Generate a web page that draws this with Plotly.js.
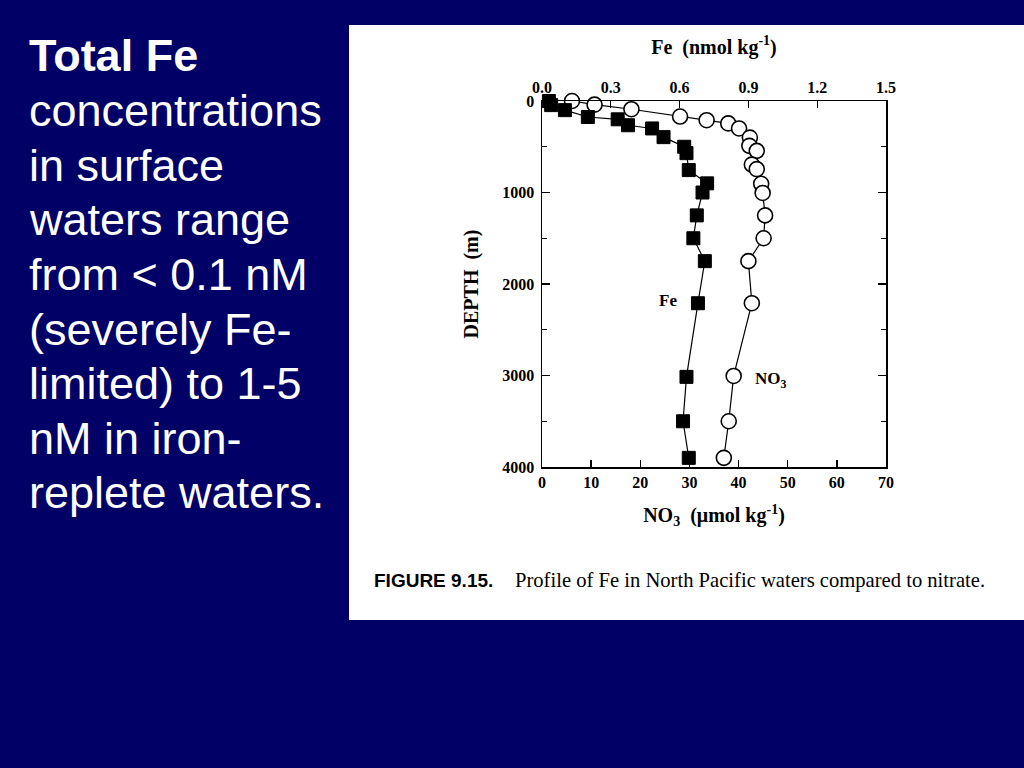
<!DOCTYPE html>
<html>
<head>
<meta charset="utf-8">
<script src="https://cdn.plot.ly/plotly-3.0.1.min.js"></script>
<style>
html,body{margin:0;padding:0;background:#000066;}
#chart{width:1024px;height:768px;}
</style>
</head>
<body>
<div id="chart"></div>
<script>
// ---- data ----
const feDepth = [0, 45, 100, 175, 200, 265, 300, 395, 500, 570, 755, 900, 1000, 1250, 1500, 1750, 2210, 3015, 3500, 3900];
const feValues = [0.03, 0.04, 0.10, 0.20, 0.33, 0.375, 0.48, 0.53, 0.62, 0.63, 0.64, 0.72, 0.70, 0.675, 0.66, 0.71, 0.68, 0.63, 0.615, 0.64];

const no3Depth = [0, 40, 90, 170, 210, 245, 300, 400, 490, 545, 695, 745, 905, 1005, 1250, 1500, 1750, 2210, 3005, 3500, 3900];
const no3Values = [6.1, 10.7, 18.2, 28.1, 33.5, 37.9, 40.1, 42.3, 42.2, 43.7, 42.7, 43.7, 44.6, 44.9, 45.4, 45.1, 42.0, 42.7, 39.0, 38.0, 37.0];

const no3Ticks = [0, 10, 20, 30, 40, 50, 60, 70];
const feTicks = [0.0, 0.3, 0.6, 0.9, 1.2, 1.5];
const depthTicks = [0, 1000, 2000, 3000, 4000];

const slideLines = [
  "<b>Total Fe</b>",
  "concentrations",
  "in surface",
  "waters range",
  "from &lt; 0.1 nM",
  "(severely Fe-",
  "limited) to 1-5",
  "nM in iron-",
  "replete waters."
];
const captionLead = "FIGURE 9.15.";
const captionText = "Profile of Fe in North Pacific waters compared to nitrate.";

// ---- layout geometry (pixels) ----
const PL = 542, PR = 886, PT = 101, PB = 467;
const px = x => (x - PL) / (PR - PL);
const py = y => (PB - y) / (PB - PT);

const serif = "Liberation Serif, Times New Roman, serif";
const sans = "Liberation Sans, Arial, Helvetica, sans-serif";

const traces = [
  {
    x: no3Values, y: no3Depth, xaxis: 'x', yaxis: 'y',
    type: 'scatter', mode: 'lines+markers', name: 'NO3',
    cliponaxis: false,
    line: {color: '#000', width: 1.2},
    marker: {symbol: 'circle', size: 15, color: '#fff', line: {color: '#000', width: 1.6}}
  },
  {
    x: feValues, y: feDepth, xaxis: 'x2', yaxis: 'y',
    type: 'scatter', mode: 'lines+markers', name: 'Fe',
    cliponaxis: false,
    line: {color: '#000', width: 1.2},
    marker: {symbol: 'square', size: 13, color: '#000', line: {color: '#000', width: 1}}
  }
];

const annotations = [];
slideLines.forEach((t, i) => {
  annotations.push({
    xref: 'paper', yref: 'paper', x: px(27), y: py(56 + i * 54.6),
    xanchor: 'left', yanchor: 'middle', showarrow: false,
    text: t, font: {family: sans, size: 45, color: '#ffffff'}
  });
});
annotations.push({
  xref: 'paper', yref: 'paper', x: px(372), y: py(580),
  xanchor: 'left', yanchor: 'middle', showarrow: false,
  text: '<b>' + captionLead + '</b>',
  font: {family: "Liberation Sans Narrow, Arial Narrow, " + sans, size: 19, color: '#000'}
});
annotations.push({
  xref: 'paper', yref: 'paper', x: px(513), y: py(580),
  xanchor: 'left', yanchor: 'middle', showarrow: false,
  text: captionText,
  font: {family: serif, size: 20.6, color: '#000'}
});
annotations.push({
  xref: 'x', yref: 'y', x: 25.7, y: 2175,
  showarrow: false, text: '<b>Fe</b>',
  font: {family: serif, size: 17, color: '#000'}
});
annotations.push({
  xref: 'x', yref: 'y', x: 46.5, y: 3050,
  showarrow: false, text: '<b>NO<sub>3</sub></b>',
  font: {family: serif, size: 17, color: '#000'}
});

const tickFont = {family: serif, size: 16, color: '#000', weight: 'bold'};
const titleFont = {family: serif, size: 20, color: '#000', weight: 'bold'};

const layout = {
  width: 1024, height: 768,
  margin: {l: PL, r: 1024 - PR, t: PT, b: 768 - PB, pad: 0},
  paper_bgcolor: '#000066',
  plot_bgcolor: '#ffffff',
  showlegend: false,
  xaxis: {
    range: [0, 70], tickvals: no3Ticks, ticktext: no3Ticks.map(String),
    ticks: 'inside', ticklen: 7, tickwidth: 1.3, tickcolor: '#000',
    showline: true, linecolor: '#000', linewidth: 1.5,
    showgrid: false, zeroline: false, mirror: false,
    tickfont: tickFont,
    title: {text: '<b>NO<sub>3</sub>  (μmol kg<sup>-1</sup>)</b>', font: titleFont, standoff: 18}
  },
  xaxis2: {
    range: [0, 1.5], overlaying: 'x', side: 'top', anchor: 'y',
    tickvals: feTicks, ticktext: feTicks.map(v => v.toFixed(1)),
    ticks: 'inside', ticklen: 7, tickwidth: 1.3, tickcolor: '#000',
    showline: true, linecolor: '#000', linewidth: 1.5,
    showgrid: false, zeroline: false,
    tickfont: tickFont,
    title: {text: '<b>Fe  (nmol kg<sup>-1</sup>)</b>', font: titleFont, standoff: 19}
  },
  yaxis: {
    range: [4000, 0], tickvals: depthTicks, ticktext: depthTicks.map(String),
    ticks: 'inside', ticklen: 8, tickwidth: 1.3, tickcolor: '#000',
    ticklabelstandoff: 3,
    minor: {dtick: 500, ticks: 'inside', ticklen: 5, tickwidth: 1.2, tickcolor: '#000', showgrid: false},
    showline: true, linecolor: '#000', linewidth: 1.5, mirror: 'ticks',
    showgrid: false, zeroline: false,
    tickfont: tickFont,
    title: {text: '<b>DEPTH  (m)</b>', font: titleFont, standoff: 18}
  },
  shapes: [{
    type: 'rect', xref: 'paper', yref: 'paper', layer: 'below',
    x0: px(349), x1: px(1030), y0: py(620), y1: py(25),
    fillcolor: '#ffffff', line: {width: 0}
  }],
  annotations: annotations
};

Plotly.newPlot('chart', traces, layout, {staticPlot: true, displayModeBar: false});
</script>
</body>
</html>
